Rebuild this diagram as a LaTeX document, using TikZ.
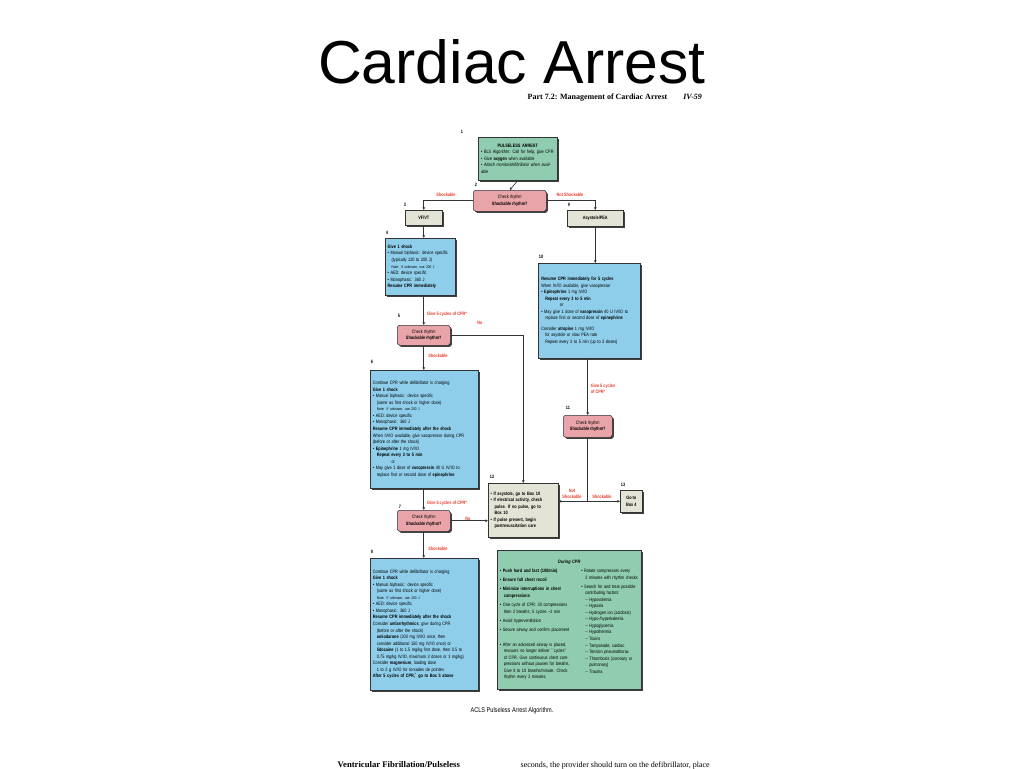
\documentclass[tikz,border=0pt]{standalone}
\usepackage{fontspec}
\setmainfont{Liberation Sans}
\newfontfamily\serf{Liberation Serif}
\newfontfamily\nar{Liberation Sans}[FakeStretch=0.8]
\usetikzlibrary{shadows,arrows.meta}
\definecolor{bgreen}{RGB}{143,204,176}
\definecolor{bpink}{RGB}{232,164,168}
\definecolor{bblue}{RGB}{142,206,234}
\definecolor{bgrey}{RGB}{228,228,214}
\definecolor{lred}{RGB}{230,60,40}
\newcommand\bs{\nar\fontsize{3.6}{4.9}\selectfont}
\begin{document}
\begin{tikzpicture}[x=0.75pt,y=-0.75pt,
 box/.style={draw=black!80,line width=0.4pt,inner sep=1.5pt,anchor=north west,align=left,font=\bs,
   drop shadow={shadow xshift=1.2pt,shadow yshift=-1.2pt,fill=black!75,opacity=1}},
 dec/.style={box,rounded corners=2pt,fill=bpink,align=center},
 arr/.style={draw=black!80,line width=0.45pt,-{Stealth[length=2.2pt,width=2pt]}},
 ln/.style={draw=black!80,line width=0.45pt},
 lab/.style={text=lred,font=\bs\bfseries,align=left,inner sep=0pt},
 num/.style={font=\bs\bfseries,inner sep=0pt}]
\useasboundingbox (0,0) rectangle (1024,768);
\fill[white] (0,0) rectangle (1024,768);
\node[anchor=base,font=\fontsize{45.5}{48}\selectfont] (title) at (512,83) {Cardiac Arrest};
\node[anchor=base west,font=\serf\fontsize{6}{7}\selectfont\bfseries] (hdr) at (523,99) {Part 7.2: Management of Cardiac Arrest\hspace{12pt}\textit{IV-59}};

% boxes
\node[box,fill=bgreen,minimum width=59.25pt,minimum height=32.25pt,text width=55pt] (b1) at (478,137)
 {\centering\textbf{PULSELESS ARREST}\par\raggedright
 \textbullet\ BLS Algorithm: Call for help, give CPR\\
 \textbullet\ Give \textbf{oxygen} when available\\
 \textbullet\ \textit{Attach monitor/defibrillator when available}};
\node[dec,minimum width=54.75pt,minimum height=15.75pt] (b2) at (473,190) {Check rhythm\\\textbf{Shockable rhythm?}};
\node[box,fill=bgrey,minimum width=27.75pt,minimum height=11.25pt,align=center] (b3) at (405,210) {\textbf{VF/VT}};
\node[box,fill=bgrey,minimum width=42pt,minimum height=12pt,align=center] (b9) at (567,210) {\textbf{Asystole/PEA}};
\node[box,fill=bblue,minimum width=52.5pt,minimum height=42.75pt,text width=49pt] (b4) at (385,238)
 {\textbf{Give 1 shock}\\
 \textbullet\ Manual biphasic: device specific\\
 \hspace*{3pt}(typically 120 to 200 J)\\
 \hspace*{3pt}{\fontsize{2.9}{4}\selectfont Note: If unknown, use 200 J}\\
 \textbullet\ AED: device specific\\
 \textbullet\ Monophasic: 360 J\\
 \textbf{Resume CPR immediately}};
\node[dec,minimum width=39.75pt,minimum height=15pt] (b5) at (397,325) {Check rhythm\\\textbf{Shockable rhythm?}};
\node[box,fill=bblue,minimum width=81pt,minimum height=88.5pt,text width=77pt] (b6) at (370,370)
 {Continue CPR while defibrillator is charging\\
 \textbf{Give 1 shock}\\
 \textbullet\ Manual biphasic: device specific\\
 \hspace*{3pt}(same as first shock or higher dose)\\
 \hspace*{3pt}{\fontsize{2.9}{4}\selectfont Note: If unknown, use 200 J}\\
 \textbullet\ AED: device specific\\
 \textbullet\ Monophasic: 360 J\\
 \textbf{Resume CPR immediately after the shock}\\
 When IV/IO available, give vasopressor during CPR\\
 (before or after the shock)\\
 \textbullet\ \textbf{Epinephrine} 1 mg IV/IO\\
 \hspace*{3pt}\textbf{Repeat every 3 to 5 min}\\
 \hspace*{14pt}or\\
 \textbullet\ May give 1 dose of \textbf{vasopressin} 40 U IV/IO to\\
 \hspace*{3pt}replace first or second dose of \textbf{epinephrine}};
\node[dec,minimum width=39.75pt,minimum height=15.75pt] (b7) at (397,510) {Check rhythm\\\textbf{Shockable rhythm?}};
\node[box,fill=bblue,minimum width=81pt,minimum height=99pt,text width=77pt] (b8) at (370,558)
 {Continue CPR while defibrillator is charging\\
 \textbf{Give 1 shock}\\
 \textbullet\ Manual biphasic: device specific\\
 \hspace*{3pt}(same as first shock or higher dose)\\
 \hspace*{3pt}{\fontsize{2.9}{4}\selectfont Note: If unknown, use 200 J}\\
 \textbullet\ AED: device specific\\
 \textbullet\ Monophasic: 360 J\\
 \textbf{Resume CPR immediately after the shock}\\
 Consider \textbf{antiarrhythmics}; give during CPR\\
 \hspace*{3pt}(before or after the shock)\\
 \hspace*{3pt}\textbf{amiodarone} (300 mg IV/IO once, then\\
 \hspace*{3pt}consider additional 150 mg IV/IO once) or\\
 \hspace*{3pt}\textbf{lidocaine} (1 to 1.5 mg/kg first dose, then 0.5 to\\
 \hspace*{3pt}0.75 mg/kg IV/IO, maximum 3 doses or 3 mg/kg)\\
 Consider \textbf{magnesium}, loading dose\\
 \hspace*{3pt}1 to 2 g IV/IO for torsades de pointes\\
 \textbf{After 5 cycles of CPR,\textsuperscript{*} go to Box 5 above}};
\node[box,fill=bblue,minimum width=76.5pt,minimum height=71.25pt,text width=72pt] (b10) at (538,263)
 {\textbf{Resume CPR immediately for 5 cycles}\\
 When IV/IO available, give vasopressor\\
 \textbullet\ \textbf{Epinephrine} 1 mg IV/IO\\
 \hspace*{3pt}\textbf{Repeat every 3 to 5 min}\\
 \hspace*{14pt}or\\
 \textbullet\ May give 1 dose of \textbf{vasopressin} 40 U IV/IO to\\
 \hspace*{3pt}replace first or second dose of \textbf{epinephrine}\\[3pt]
 Consider \textbf{atropine} 1 mg IV/IO\\
 \hspace*{3pt}for asystole or slow PEA rate\\
 \hspace*{3pt}Repeat every 3 to 5 min (up to 3 doses)};
\node[dec,minimum width=36.75pt,minimum height=16.5pt] (b11) at (563,415) {Check rhythm\\\textbf{Shockable rhythm?}};
\node[box,fill=bgrey,minimum width=52.5pt,minimum height=40.5pt,text width=49pt] (b12) at (488,483)
 {\textbf{\textbullet\ If asystole, go to Box 10}\\
 \textbf{\textbullet\ If electrical activity, check}\\
 \textbf{\hspace*{3pt}pulse. If no pulse, go to}\\
 \textbf{\hspace*{3pt}Box 10}\\
 \textbf{\textbullet\ If pulse present, begin}\\
 \textbf{\hspace*{3pt}postresuscitation care}};
\node[box,fill=bgrey,minimum width=16.5pt,minimum height=16.5pt,align=center] (b13) at (620,490) {\textbf{Go to}\\\textbf{Box 4}};
\node[box,fill=bgreen,minimum width=108pt,minimum height=104.25pt,text width=104pt] (cpr) at (497,550)
 {\centering\textbf{\textit{During CPR}}\par\vspace{2pt}\raggedright
 \begin{minipage}[t]{58pt}\raggedright
 \textbullet\ \textbf{Push hard and fast (100/min)}\\[2pt]
 \textbullet\ \textbf{Ensure full chest recoil}\\[2pt]
 \textbullet\ \textbf{Minimize interruptions in chest}\\
 \hspace*{3pt}\textbf{compressions}\\[2pt]
 \textbullet\ One cycle of CPR: 30 compressions\\
 \hspace*{3pt}then 2 breaths; 5 cycles \textasciitilde2 min\\[2pt]
 \textbullet\ Avoid hyperventilation\\[2pt]
 \textbullet\ Secure airway and confirm placement\\[6pt]
 \textbullet\ After an advanced airway is placed,\\
 \hspace*{3pt}rescuers no longer deliver ``cycles''\\
 \hspace*{3pt}of CPR. Give continuous chest com-\\
 \hspace*{3pt}pressions without pauses for breaths.\\
 \hspace*{3pt}Give 8 to 10 breaths/minute. Check\\
 \hspace*{3pt}rhythm every 2 minutes.
 \end{minipage}\hspace{3pt}%
 \begin{minipage}[t]{43pt}\raggedright
 \textbullet\ Rotate compressors every\\
 \hspace*{3pt}2 minutes with rhythm checks\\[2pt]
 \textbullet\ Search for and treat possible\\
 \hspace*{3pt}contributing factors:\\
 \hspace*{3pt}-- Hypovolemia\\
 \hspace*{3pt}-- Hypoxia\\
 \hspace*{3pt}-- Hydrogen ion (acidosis)\\
 \hspace*{3pt}-- Hypo-/hyperkalemia\\
 \hspace*{3pt}-- Hypoglycemia\\
 \hspace*{3pt}-- Hypothermia\\
 \hspace*{3pt}-- Toxins\\
 \hspace*{3pt}-- Tamponade, cardiac\\
 \hspace*{3pt}-- Tension pneumothorax\\
 \hspace*{3pt}-- Thrombosis (coronary or\\
 \hspace*{6pt}pulmonary)\\
 \hspace*{3pt}-- Trauma
 \end{minipage}};

% numbers
\node[num] (n1) at (462,132) {1};
\node[num] (n2) at (476,185) {2};
\node[num] (n3) at (405,205) {3};
\node[num] (n9) at (569,205) {9};
\node[num] (n4) at (387,233) {4};
\node[num] (n5) at (399,316) {5};
\node[num] (n6) at (372,362) {6};
\node[num] (n10) at (541,257) {10};
\node[num] (n11) at (568,408) {11};
\node[num] (n12) at (492,477) {12};
\node[num] (n13) at (623,485) {13};
\node[num] (n7) at (400,507) {7};
\node[num] (n8) at (372,552) {8};

% labels
\node[lab] (l1) at (446,195) {Shockable};
\node[lab] (l2) at (570,195) {Not Shockable};
\node[lab] (l3) at (447,314) {Give 5 cycles of CPR*};
\node[lab] (l4) at (480,323) {No};
\node[lab] (l5) at (438,356) {Shockable};
\node[lab] (l6) at (603,389) {Give 5 cycles\\of CPR*};
\node[lab,align=center] (l7) at (572,494) {Not\\Shockable};
\node[lab] (l8) at (602,497) {Shockable};
\node[lab] (l9) at (447,503) {Give 5 cycles of CPR*};
\node[lab] (l10) at (468,519) {No};
\node[lab] (l11) at (438,549) {Shockable};

% connectors
\draw[arr] (b1.south) -- (b2.north);
\draw[arr] (b2.west) -| (b3.north);
\draw[arr] (b2.east) -| (b9.north);
\draw[arr] (b3.south) -- (b3.south |- b4.north);
\draw[arr] (b4.south -| b5.north) -- (b5.north);
\draw[arr] (b5.east) -| (b12.north);
\draw[arr] (b5.south) -- (b5.south |- b6.north);
\draw[arr] (b6.south -| b7.north) -- (b7.north);
\draw[arr] (b7.east) -- (b7.east -| b12.west);
\draw[arr] (b7.south) -- (b7.south |- b8.north);
\draw[arr] (b9.south) -- (b9.south |- b10.north);
\draw[arr] (b10.south -| b11.north) -- (b11.north);
\coordinate (j) at (b11.south |- b13.west);
\draw[ln] (b11.south) -- (j);
\draw[arr] (j) -- (j -| b12.east);
\draw[arr] (j) -- (b13.west);

\node[font=\nar\fontsize{5.2}{6}\selectfont] (cap) at (512,711) {ACLS Pulseless Arrest Algorithm.};
\node[anchor=base west,font=\serf\fontsize{6.5}{7}\selectfont\bfseries] (bl) at (333,767) {Ventricular Fibrillation/Pulseless};
\node[anchor=base west,font=\serf\fontsize{6}{7}\selectfont] (br) at (516,767) {seconds, the provider should turn on the defibrillator, place};
\end{tikzpicture}
\end{document}
